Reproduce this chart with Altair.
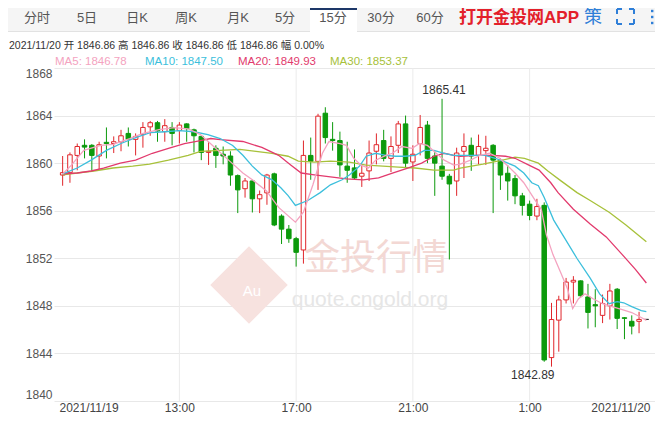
import altair as alt
import pandas as pd

# ---------------- data ----------------
opens = [1859.0, 1859.2, 1860.65, 1861.5, 1861.5, 1860.6, 1861.75, 1861.65, 1861.8, 1862.5,
         1862.0, 1862.4, 1863.05, 1863.4, 1862.65, 1863.0, 1862.75, 1863.3, 1862.8, 1862.25,
         1860.9, 1861.25, 1860.75, 1860.6, 1858.95, 1857.85, 1858.5, 1857.0, 1857.5, 1859.1,
         1855.55, 1854.45, 1853.65, 1852.7, 1860.65, 1860.15, 1864.2, 1862.0, 1861.9, 1859.75,
         1859.6, 1858.9, 1859.35, 1861.0, 1861.9, 1860.4, 1861.5, 1863.3, 1860.1, 1861.65,
         1863.2, 1860.6, 1859.75, 1858.9, 1858.5, 1861.0, 1861.5, 1860.65, 1861.05, 1861.5,
         1860.25, 1859.15, 1858.7, 1857.25, 1856.55, 1855.55, 1856.45, 1843.65, 1846.8, 1848.5,
         1850.0, 1850.1, 1848.75, 1848.1, 1847.2, 1848.0, 1849.4, 1847.0, 1846.7, 1846.7,
         1846.86]
highs = [1860.6, 1860.9, 1861.65, 1862.0, 1861.6, 1861.8, 1863.0, 1862.25, 1862.8, 1863.0,
         1862.5, 1863.45, 1863.55, 1863.55, 1863.7, 1863.45, 1863.45, 1863.35, 1862.9, 1862.3,
         1861.8, 1861.5, 1861.4, 1861.0, 1859.05, 1858.75, 1858.6, 1857.7, 1859.1, 1859.2,
         1855.7, 1854.8, 1853.8, 1861.9, 1862.15, 1864.15, 1864.7, 1863.45, 1862.65, 1861.8,
         1861.15, 1859.75, 1861.9, 1862.5, 1862.8, 1862.25, 1863.55, 1864.0, 1861.5, 1864.05,
         1863.55, 1861.0, 1865.41, 1859.1, 1861.3, 1862.5, 1862.15, 1862.4, 1862.3, 1861.6,
         1860.4, 1859.85, 1859.0, 1857.5, 1856.85, 1857.0, 1856.7, 1848.25, 1848.85, 1850.35,
         1850.5, 1850.15, 1849.85, 1849.4, 1848.95, 1849.85, 1849.5, 1847.05, 1847.2, 1847.5,
         1846.86]
lows = [1858.1, 1858.35, 1859.4, 1860.4, 1859.4, 1859.5, 1860.4, 1860.85, 1861.0, 1861.4,
        1860.65, 1861.3, 1862.3, 1861.8, 1861.8, 1861.5, 1861.65, 1861.8, 1860.9, 1860.25,
        1859.85, 1859.6, 1859.9, 1858.1, 1855.8, 1857.1, 1855.85, 1855.8, 1856.5, 1854.7,
        1853.2, 1853.3, 1851.3, 1851.55, 1858.6, 1857.75, 1861.65, 1861.05, 1858.85, 1858.35,
        1858.6, 1858.0, 1858.5, 1859.9, 1860.15, 1859.25, 1860.85, 1859.6, 1858.5, 1860.65,
        1860.0, 1857.25, 1858.6, 1851.9, 1857.25, 1858.75, 1859.35, 1859.9, 1859.85, 1855.8,
        1857.75, 1856.85, 1856.55, 1855.6, 1855.2, 1855.2, 1843.3, 1842.89, 1844.15, 1848.2,
        1848.2, 1848.7, 1846.1, 1846.2, 1846.55, 1846.85, 1846.05, 1845.2, 1845.6, 1845.7,
        1846.86]
closes = [1859.2, 1860.7, 1861.4, 1861.35, 1860.65, 1861.55, 1861.65, 1861.8, 1862.3, 1862.0,
          1862.25, 1863.0, 1863.4, 1862.7, 1863.15, 1862.5, 1863.2, 1862.9, 1862.3, 1860.9,
          1861.0, 1860.65, 1860.6, 1859.0, 1857.75, 1858.5, 1857.0, 1857.35, 1859.0, 1854.8,
          1854.45, 1853.65, 1852.5, 1860.65, 1860.15, 1863.95, 1862.15, 1861.9, 1859.85, 1859.4,
          1858.75, 1859.15, 1860.85, 1861.55, 1860.4, 1861.4, 1863.3, 1860.0, 1860.75, 1863.0,
          1860.4, 1860.0, 1858.9, 1858.25, 1860.85, 1861.4, 1860.6, 1861.4, 1861.25, 1860.25,
          1859.0, 1858.5, 1857.25, 1856.45, 1855.6, 1856.35, 1843.45, 1846.85, 1848.5, 1850.0,
          1850.15, 1848.85, 1847.45, 1848.0, 1848.2, 1849.25, 1846.95, 1846.95, 1846.3, 1846.86,
          1846.86]
bar_index = list(range(len(opens)))

ma5_idx = [0, 1.2, 2.9, 5.2, 6.9, 9.2, 10.9, 13.2, 15.3, 17.2, 18.9, 20.7, 22.9, 24.7, 26, 27.9,
           29.6, 31.9, 33, 34.3, 35.6, 36.5, 38, 38.9, 39.9, 40.9, 41.9, 42.9, 44.3, 45.2, 46.5,
           47.9, 48.9, 50, 51.2, 52.3, 53.6, 54.5, 55.9, 57.2, 58.5, 59.9, 60.9, 62, 63.2, 64.7,
           65.6, 66.3, 67.2, 68.3, 69.2, 69.9, 70.7, 71.6, 72.7, 74, 75.3, 76.7, 78, 79.3, 80]
ma5_val = [1859.09, 1859.83, 1861.07, 1861.49, 1861.57, 1862.07, 1862.48, 1862.81, 1862.98, 1862.89,
           1862.40, 1861.40, 1860.17, 1859.17, 1858.60, 1857.69, 1856.28, 1855.04, 1855.87, 1858.18,
           1860.83, 1861.82, 1861.65, 1861.49, 1860.41, 1859.83, 1859.59, 1860.25, 1860.66, 1860.83,
           1861.40, 1861.24, 1861.65, 1861.49, 1860.83, 1860.25, 1859.83, 1859.92, 1860.25, 1860.66,
           1860.83, 1860.41, 1859.83, 1859.17, 1858.35, 1856.94, 1856.12, 1853.97, 1852.31, 1850.74,
           1849.42, 1847.77, 1848.60, 1849.01, 1848.60, 1848.18, 1847.93, 1847.69, 1847.44, 1847.02,
           1846.78]
ma10_idx = [0, 2, 3.9, 6, 8, 10, 12, 14, 16, 18, 19.9, 21.6, 23.3, 24.7, 26, 27.3, 28.7, 29.9,
            30.9, 31.9, 33.6, 35.3, 36.7, 38.3, 39.3, 40.7, 41.6, 42.9, 44.3, 45.6, 46.9, 48.3,
            49.6, 50.9, 52.3, 53.6, 54.9, 56.3, 57.9, 59.3, 60.7, 62, 63.2, 64.3, 65.2, 66, 67.3,
            68.7, 70.5, 72.3, 73.6, 74.9, 76, 76.9, 78, 79.3, 80]
ma10_val = [1859.09, 1859.59, 1860.25, 1861.07, 1861.65, 1862.15, 1862.56, 1862.64, 1862.73, 1862.64,
            1862.40, 1862.07, 1861.49, 1860.66, 1859.75, 1859.01, 1858.60, 1857.93, 1857.27, 1856.45,
            1856.86, 1857.52, 1858.18, 1858.60, 1859.01, 1859.75, 1860.58, 1860.83, 1860.66, 1860.58,
            1860.58, 1860.66, 1861.07, 1861.07, 1860.83, 1860.66, 1860.66, 1860.66, 1860.66, 1860.41,
            1860.08, 1859.75, 1859.17, 1858.35, 1858.10, 1857.11, 1855.21, 1853.80, 1851.98, 1850.33,
            1849.01, 1848.18, 1848.35, 1848.26, 1847.93, 1847.60, 1847.52]
ma20_idx = [0, 2, 3.9, 5.6, 7.9, 10, 12.3, 14.5, 16.7, 18.9, 20.3, 21.6, 24.7, 27.3, 29.6, 31.3,
            32.7, 34.5, 36.7, 38.9, 41.2, 43.3, 45.2, 47.3, 49.2, 50.9, 52.3, 53.6, 54.5, 56.7,
            58.9, 60.7, 62, 63.9, 65.3, 66.9, 67.9, 70, 72.3, 74.5, 76.7, 78.5, 80]
ma20_val = [1859.09, 1859.17, 1859.34, 1859.59, 1860.00, 1860.25, 1860.83, 1861.24, 1861.65, 1861.90,
            1862.07, 1861.98, 1861.82, 1861.32, 1860.66, 1859.83, 1859.17, 1859.01, 1858.84, 1858.68,
            1858.60, 1858.76, 1859.17, 1859.59, 1860.00, 1860.58, 1860.83, 1860.66, 1860.58, 1860.66,
            1860.66, 1860.58, 1860.41, 1859.83, 1859.42, 1858.35, 1857.52, 1856.12, 1854.88, 1853.80,
            1852.31, 1851.07, 1849.92]
ma30_idx = [0, 2, 4.3, 6.9, 9.6, 11.9, 14.5, 17.2, 18.9, 21.6, 24.3, 26.5, 28.7, 30.9, 32.3, 34.5,
            36.7, 39.3, 41.6, 43.9, 46, 48.3, 50.9, 53.6, 54.5, 57.6, 60.3, 62, 63.3, 65.2, 66.5,
            68.3, 70.5, 72.3, 74.9, 77.2, 80]
ma30_val = [1859.01, 1859.17, 1859.34, 1859.59, 1859.75, 1859.92, 1860.25, 1860.66, 1860.99, 1861.07,
            1861.16, 1860.99, 1860.83, 1860.58, 1860.17, 1860.08, 1860.17, 1860.08, 1859.83, 1859.75,
            1859.67, 1859.59, 1859.42, 1859.42, 1859.59, 1859.92, 1860.25, 1860.50, 1860.41, 1860.00,
            1859.34, 1858.51, 1857.52, 1856.86, 1855.87, 1854.79, 1853.39]

x_tick_pos = [-0.5, 16, 32, 48, 64, 80.5]
x_tick_labels = ["2021/11/19", "13:00", "17:00", "21:00", "1:00", "2021/11/20"]
x_grid_pos = [16, 32, 48, 64]
y_ticks = [1840, 1844, 1848, 1852, 1856, 1860, 1864, 1868]

tabs = ["分时", "5日", "日K", "周K", "月K", "5分", "15分", "30分", "60分"]
info_line = "2021/11/20 开 1846.86 高 1846.86 收 1846.86 低 1846.86 幅 0.00%"
ma_labels = ["MA5: 1846.78", "MA10: 1847.50", "MA20: 1849.93", "MA30: 1853.37"]

# ---------------- styles ----------------
RED = "#e0262b"
GREEN = "#0c9a0c"
FLAT = "#333333"
MA_COLORS = ["#f4a3c0", "#3cbfdc", "#e23a6d", "#a7c13a"]
FONT = "Liberation Sans, Noto Sans CJK SC"
W, H = 601, 333
OX, OY = 54, 68  # page position of plot origin

df = pd.DataFrame({"i": bar_index, "o": opens, "h": highs, "l": lows, "c": closes})
df["dir"] = ["up" if c > o else ("down" if c < o else "flat") for o, c in zip(df.o, df.c)]

xs = alt.Scale(domain=[x_tick_pos[0], x_tick_pos[-1]], nice=False, zero=False)
ys = alt.Scale(domain=[1840, 1868], nice=False, zero=False)

label_expr = ""
for p, t in zip(x_tick_pos, x_tick_labels):
    label_expr += f"abs(datum.value - ({p})) < 0.01 ? '{t}' : "
label_expr += "''"

x_axis = alt.Axis(values=x_tick_pos, labelExpr=label_expr, grid=False, domain=False, ticks=False,
                  tickSize=0, labelPadding=1, labelFontSize=12,
                  labelAlign={"condition": [{"test": f"datum.value < {x_tick_pos[0] + 0.01}", "value": "left"},
                                            {"test": f"datum.value > {x_tick_pos[-1] - 0.01}", "value": "right"}],
                              "value": "center"},
                  labelColor="#444", labelFont=FONT, labelOverlap=False, title=None)
y_axis = alt.Axis(values=y_ticks, grid=True, gridColor="#e8e8e8", domain=False, ticks=False,
                  tickSize=0, labelFlush=True, labelFlushOffset=0, labelPadding=2, labelFontSize=12,
                  labelColor="#555", labelFont=FONT, title=None, format="d")


def X(field):
    return alt.X(field, type="quantitative", scale=xs, axis=x_axis, title=None)


def Y(field):
    return alt.Y(field, type="quantitative", scale=ys, axis=y_axis, title=None)


one = pd.DataFrame({"k": [0]})


def text_at(s, px, py, size, color, align="left", weight="normal", font=FONT):
    return alt.Chart(pd.DataFrame({"t": [s]})).mark_text(
        align=align, baseline="middle", fontSize=size, color=color, fontWeight=weight, font=font
    ).encode(x=alt.value(px - OX), y=alt.value(py - OY), text="t:N")


def rect_at(x1, y1, x2, y2, color):
    return alt.Chart(one).mark_rect(color=color).encode(
        x=alt.value(x1 - OX), x2=alt.value(x2 - OX), y=alt.value(y1 - OY), y2=alt.value(y2 - OY))


def seg(x1, y1, x2, y2, color, w=1.0):
    return alt.Chart(one).mark_rule(color=color, strokeWidth=w).encode(
        x=alt.value(x1 - OX), x2=alt.value(x2 - OX), y=alt.value(y1 - OY), y2=alt.value(y2 - OY))


layers = []

# header bar
layers.append(rect_at(8, 8, 655, 31, "#f5f5f5"))
layers.append(seg(8, 31.5, 655, 31.5, "#e2e2e2"))
layers.append(rect_at(310, 8, 357, 32, "#ffffff"))
layers.append(rect_at(310, 8, 357, 10, "#1d3768"))
tab_x = [37, 87, 137, 186, 238, 285, 333, 381, 430]
for t, px in zip(tabs, tab_x):
    layers.append(text_at(t, px, 18, 13, "#555", align="center"))
layers.append(text_at("打开金投网APP", 519, 18, 17, "#e3202a", align="center", weight="bold"))
layers.append(text_at("策", 593, 18, 18, "#2f7fd8", align="center"))
BL = "#2f7fd8"
for (a, b, c, d) in [(617, 9, 622, 9), (617, 9, 617, 14), (629, 9, 634, 9), (634, 9, 634, 14),
                     (617, 24, 622, 24), (617, 19, 617, 24), (629, 24, 634, 24), (634, 19, 634, 24)]:
    layers.append(seg(a, b, c, d, BL, 2))
for dot_y in (11, 17, 23):  # vertical "more" menu dots
    layers.append(rect_at(651, dot_y - 1.2, 653.4, dot_y + 1.2, BL))
layers.append(text_at(info_line, 9, 46, 10.5, "#333"))
for s, px, col in zip(ma_labels, [55, 145, 238, 330], MA_COLORS):
    layers.append(text_at(s, px, 62, 11.5, col))

# watermark
layers.append(alt.Chart(one).mark_point(shape="diamond", filled=True, size=6000, color="#f7e2df", opacity=1)
              .encode(x=alt.value(249 - OX), y=alt.value(285 - OY)))
layers.append(text_at("Au", 252, 291, 15, "#ffffff", align="center"))
layers.append(text_at("金投行情", 376, 259, 36, "#f3d8d4", align="center", font="Noto Sans CJK SC"))
layers.append(text_at("quote.cngold.org", 370, 300, 21, "#e6e6e6", align="center"))

# vertical grid
layers.append(alt.Chart(pd.DataFrame({"g": x_grid_pos})).mark_rule(color="#ebebeb", strokeWidth=1)
              .encode(x=X("g")))

dir_dom = ["up", "down", "flat"]
stroke_scale = alt.Scale(domain=dir_dom, range=[RED, GREEN, FLAT])
fill_scale = alt.Scale(domain=dir_dom, range=["#ffffff", GREEN, FLAT])

base = alt.Chart(df)
wicks = base.mark_rule(strokeWidth=1).encode(
    x=X("i"), y=Y("l"), y2="h:Q",
    color=alt.Color("dir:N", scale=stroke_scale, legend=None))
bodies = base.mark_bar(size=4.5, strokeWidth=1).encode(
    x=X("i"), y=Y("o"), y2="c:Q",
    fill=alt.Fill("dir:N", scale=fill_scale, legend=None),
    stroke=alt.Stroke("dir:N", scale=stroke_scale, legend=None))
layers += [wicks, bodies]

for xi, vals, col in [(ma30_idx, ma30_val, MA_COLORS[3]), (ma20_idx, ma20_val, MA_COLORS[2]),
                      (ma10_idx, ma10_val, MA_COLORS[1]), (ma5_idx, ma5_val, MA_COLORS[0])]:
    d = pd.DataFrame({"i": xi, "v": vals})
    layers.append(alt.Chart(d).mark_line(color=col, strokeWidth=1.3).encode(x=X("i"), y=Y("v")))

# high / low annotations
hi = df.loc[[df.h.idxmax()]]
lo = df.loc[[df.l.idxmin()]]
layers.append(alt.Chart(hi).mark_text(align="center", baseline="bottom", dy=-2, dx=2, fontSize=12,
                                      color="#333", font=FONT)
              .encode(x=X("i"), y=Y("h"), text=alt.Text("h:Q", format=".2f")))
layers.append(alt.Chart(lo).mark_text(align="right", baseline="top", dy=3, dx=3, fontSize=12,
                                      color="#333", font=FONT)
              .encode(x=X("i"), y=Y("l"), text=alt.Text("l:Q", format=".2f")))

chart = alt.layer(*layers).properties(
    width=W, height=H,
    padding={"left": 46, "top": 60, "right": 0, "bottom": 13},
    autosize=alt.AutoSizeParams(type="none"),
).configure_view(stroke=None)

chart.save("out.html", embed_options={"renderer": "svg", "actions": False})
